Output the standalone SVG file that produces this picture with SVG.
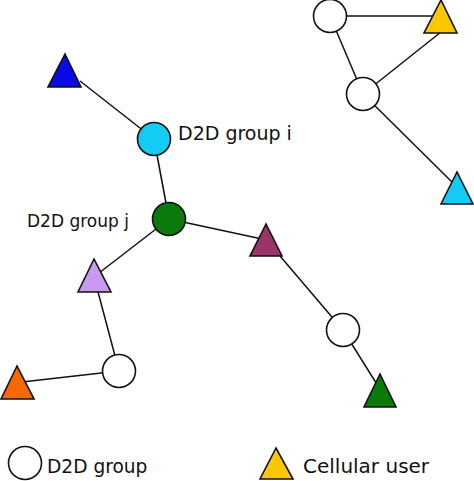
<svg xmlns="http://www.w3.org/2000/svg" width="474" height="481" viewBox="0 0 474 481">
<style>
.edge{stroke:#111;stroke-width:1.5;fill:none}
.node{stroke:#111;stroke-width:1.6}
.lbl{font-family:"DejaVu Sans",Verdana,sans-serif;fill:#111}
</style>
<rect width="474" height="481" fill="#fff"/>
<g id="connectors">
<line class="edge" x1="80" y1="81" x2="154" y2="139"/>
<line class="edge" x1="154" y1="139" x2="169" y2="219"/>
<line class="edge" x1="169" y1="219" x2="99" y2="273"/>
<line class="edge" x1="169" y1="219" x2="262" y2="239"/>
<line class="edge" x1="280" y1="256" x2="343" y2="330"/>
<line class="edge" x1="343" y1="330" x2="378" y2="386"/>
<line class="edge" x1="97" y1="288" x2="119" y2="371"/>
<line class="edge" x1="119" y1="371" x2="22" y2="382"/>
<line class="edge" x1="330" y1="16" x2="436" y2="16"/>
<line class="edge" x1="330" y1="16" x2="363" y2="94"/>
<line class="edge" x1="363" y1="94" x2="441" y2="32"/>
<line class="edge" x1="363" y1="94" x2="455" y2="185"/>
</g>
<g id="ue-blue"><polygon class="node" fill="#0a0ae6" points="65,54 48,87 81,87"/></g>
<g id="group-i"><circle class="node" fill="#14cbf5" cx="154" cy="139" r="16.5"/></g>
<g id="group-j"><circle class="node" fill="#0b7a0b" cx="169" cy="219" r="16.5"/></g>
<g id="ue-lilac"><polygon class="node" fill="#c99af2" points="94,259 78,292 111,292"/></g>
<g id="group-ll"><circle class="node" fill="#fff" cx="119" cy="371" r="16.5"/></g>
<g id="ue-orange"><polygon class="node" fill="#f56a00" points="17,366 1,399 34,399"/></g>
<g id="ue-maroon"><polygon class="node" fill="#9a3569" points="266,224 250,256 282,256"/></g>
<g id="group-lr"><circle class="node" fill="#fff" cx="343" cy="330" r="16.5"/></g>
<g id="ue-green"><polygon class="node" fill="#0b7a0b" points="380,374 364,407 396,407"/></g>
<g id="group-top"><circle class="node" fill="#fff" cx="330" cy="16" r="16.5"/></g>
<g id="ue-yellow"><polygon class="node" fill="#fbc800" points="441,0 424,33 457,33"/></g>
<g id="group-mid"><circle class="node" fill="#fff" cx="363" cy="94" r="16.5"/></g>
<g id="ue-cyan"><polygon class="node" fill="#14cbf5" points="457,172 441,204 473,204"/></g>
<g id="label-i"><text class="lbl" x="178" y="140" font-size="19">D2D group i</text></g>
<g id="label-j"><text class="lbl" x="27" y="227" font-size="17">D2D group j</text></g>
<g id="legend-group">
<circle class="node" fill="#fff" cx="25" cy="463" r="16.5"/>
<text class="lbl" x="47" y="473" font-size="18.6">D2D group</text>
</g>
<g id="legend-user">
<polygon class="node" fill="#fbc800" points="276,448 260,479 293,479"/>
<text class="lbl" x="303" y="473" font-size="20">Cellular user</text>
</g>
</svg>
